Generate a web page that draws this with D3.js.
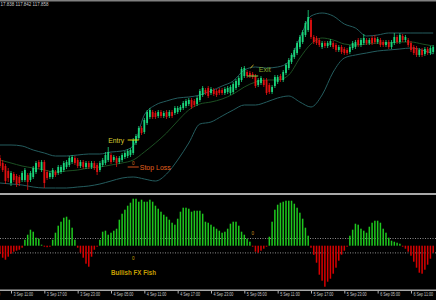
<!DOCTYPE html>
<html>
<head>
<meta charset="utf-8">
<script src="https://cdn.jsdelivr.net/npm/d3@7"></script>
<style>
  html, body { margin: 0; padding: 0; background: #000; }
  #chart { width: 436px; height: 300px; }
  text { font-family: "Liberation Sans", Arial, sans-serif; }
</style>
</head>
<body>
<div id="chart"></div>
<script>
// M30 bars, bar 0 = 3 Sep 09:00
const opens = [
  117.32,117.27,117.24,117.19,117.07,117.16,117.14,117.13,117.10,117.10,
  117.15,117.10,117.13,117.18,117.28,117.20,117.28,117.18,117.13,117.13,
  117.18,117.17,117.18,117.20,117.23,117.25,117.28,117.32,117.30,117.24,
  117.28,117.23,117.27,117.23,117.27,117.25,117.20,117.25,117.27,117.30,
  117.35,117.30,117.32,117.28,117.30,117.33,117.34,117.35,117.37,117.47,
  117.52,117.62,117.58,117.67,117.73,117.78,117.77,117.74,117.78,117.74,
  117.78,117.74,117.78,117.77,117.78,117.80,117.82,117.84,117.86,117.90,
  117.89,117.86,117.90,117.95,118.00,118.02,117.97,118.00,117.99,118.00,
  118.00,117.97,117.98,117.97,117.98,118.02,118.05,118.10,118.14,118.18,
  118.17,118.16,118.14,118.05,118.07,118.10,118.10,118.05,117.98,118.04,
  118.08,118.14,118.10,118.17,118.22,118.28,118.33,118.37,118.43,118.48,
  118.55,118.60,118.70,118.53,118.52,118.50,118.43,118.47,118.44,118.45,
  118.47,118.45,118.40,118.43,118.41,118.40,118.38,118.42,118.43,118.50,
  118.45,118.47,118.50,118.47,118.52,118.52,118.48,118.50,118.48,118.45,
  118.48,118.43,118.47,118.53,118.48,118.54,118.50,118.50,118.47,118.43,
  118.42,118.35,118.40,118.36,118.41,118.37,118.38
];
const highs = [
  117.35,117.30,117.26,117.22,117.19,117.18,117.16,117.15,117.19,117.22,
  117.17,117.19,117.24,117.29,117.30,117.30,117.30,117.20,117.19,117.22,
  117.20,117.25,117.25,117.29,117.30,117.34,117.35,117.34,117.32,117.30,
  117.30,117.29,117.29,117.29,117.29,117.27,117.29,117.32,117.38,117.43,
  117.37,117.35,117.34,117.34,117.37,117.39,117.41,117.42,117.52,117.56,
  117.64,117.64,117.72,117.80,117.82,117.80,117.79,117.80,117.80,117.79,
  117.80,117.80,117.80,117.84,117.84,117.85,117.89,117.91,117.92,117.92,
  117.91,117.94,118.01,118.04,118.02,118.04,118.03,118.02,118.01,118.02,
  118.02,118.03,118.04,118.05,118.08,118.11,118.14,118.23,118.24,118.20,
  118.19,118.18,118.16,118.12,118.14,118.12,118.12,118.07,118.05,118.15,
  118.15,118.16,118.20,118.27,118.32,118.37,118.42,118.49,118.55,118.60,
  118.69,118.80,118.72,118.55,118.54,118.52,118.49,118.49,118.49,118.51,
  118.49,118.47,118.45,118.45,118.43,118.42,118.45,118.49,118.50,118.52,
  118.52,118.56,118.52,118.52,118.54,118.55,118.53,118.52,118.50,118.50,
  118.50,118.50,118.57,118.55,118.57,118.56,118.55,118.52,118.49,118.45,
  118.44,118.42,118.42,118.43,118.43,118.44,118.45
];
const lows = [
  117.22,117.18,117.06,117.08,117.04,117.08,117.03,117.04,117.08,117.08,
  117.00,117.08,117.11,117.16,117.21,117.18,117.02,117.10,117.11,117.11,
  117.13,117.15,117.16,117.18,117.21,117.23,117.26,117.25,117.22,117.22,
  117.21,117.21,117.21,117.21,117.20,117.15,117.18,117.23,117.25,117.28,
  117.26,117.28,117.23,117.26,117.28,117.31,117.32,117.33,117.35,117.45,
  117.50,117.55,117.56,117.65,117.71,117.71,117.71,117.72,117.72,117.72,
  117.71,117.72,117.72,117.75,117.76,117.78,117.80,117.82,117.84,117.81,
  117.83,117.84,117.88,117.93,117.95,117.92,117.95,117.94,117.93,117.95,
  117.95,117.95,117.96,117.95,117.96,118.00,118.03,118.08,118.12,118.12,
  118.12,118.11,118.02,118.03,118.05,118.03,117.95,117.96,117.96,118.02,
  118.06,118.08,118.08,118.15,118.20,118.26,118.31,118.35,118.41,118.46,
  118.53,118.58,118.51,118.46,118.45,118.43,118.41,118.42,118.42,118.43,
  118.41,118.38,118.38,118.36,118.35,118.35,118.36,118.40,118.41,118.43,
  118.43,118.45,118.45,118.45,118.45,118.46,118.46,118.43,118.43,118.43,
  118.41,118.41,118.45,118.46,118.46,118.48,118.48,118.43,118.38,118.35,
  118.33,118.33,118.33,118.34,118.35,118.35,118.36
];
const closes = [
  117.24,117.20,117.09,117.12,117.17,117.10,117.06,117.07,117.17,117.20,
  117.08,117.17,117.22,117.27,117.23,117.28,117.07,117.12,117.17,117.20,
  117.15,117.23,117.23,117.27,117.28,117.32,117.33,117.27,117.24,117.28,
  117.23,117.27,117.23,117.27,117.22,117.18,117.27,117.30,117.35,117.38,
  117.28,117.33,117.27,117.32,117.35,117.37,117.39,117.40,117.50,117.54,
  117.62,117.57,117.70,117.78,117.80,117.73,117.73,117.78,117.74,117.77,
  117.73,117.78,117.74,117.82,117.82,117.83,117.87,117.89,117.90,117.83,
  117.85,117.92,117.99,118.02,117.97,117.94,118.01,117.96,117.95,117.97,
  117.97,118.01,118.02,118.03,118.06,118.09,118.12,118.21,118.22,118.14,
  118.14,118.13,118.04,118.10,118.12,118.05,117.97,117.98,118.03,118.13,
  118.13,118.10,118.18,118.25,118.30,118.35,118.40,118.47,118.53,118.58,
  118.67,118.73,118.53,118.48,118.47,118.45,118.47,118.44,118.47,118.49,
  118.43,118.40,118.43,118.38,118.37,118.37,118.43,118.47,118.48,118.45,
  118.50,118.52,118.47,118.50,118.47,118.48,118.51,118.45,118.45,118.48,
  118.43,118.48,118.53,118.48,118.55,118.50,118.53,118.45,118.40,118.37,
  118.35,118.40,118.35,118.41,118.37,118.42,118.43
];

// Bollinger bands read every 4th bar
const bandBars = [0,4,8,12,16,20,24,28,32,36,40,44,48,52,56,60,64,68,72,76,
                  80,84,88,92,96,100,104,108,112,116,120,124,128,132,136,140,144,148,152,156];
const bandUpper = [117.45,117.45,117.44,117.40,117.37,117.34,117.34,117.35,117.36,117.36,
                   117.38,117.39,117.44,117.75,117.85,117.89,117.92,117.93,117.95,117.99,
                   118.04,118.09,118.20,118.23,118.22,118.23,118.28,118.52,118.74,118.77,
                   118.74,118.66,118.62,118.54,118.55,118.57,118.57,118.57,118.57,118.57];
const bandMiddle = [117.30,117.27,117.24,117.22,117.20,117.18,117.19,117.20,117.22,117.23,
                    117.25,117.27,117.30,117.38,117.47,117.57,117.69,117.80,117.86,117.88,
                    117.91,117.96,118.03,118.08,118.10,118.10,118.15,118.32,118.46,118.52,
                    118.50,118.46,118.45,118.46,118.47,118.47,118.48,118.48,118.46,118.44];
const bandLower = [117.07,117.06,117.05,117.03,117.02,117.02,117.02,117.03,117.04,117.06,
                   117.09,117.12,117.13,117.11,117.09,117.16,117.30,117.47,117.66,117.68,
                   117.74,117.80,117.85,117.85,117.88,117.92,117.94,117.88,117.83,117.95,
                   118.18,118.32,118.35,118.37,118.39,118.40,118.41,118.42,118.40,118.36];

// Bullish FX Fish histogram, one value per bar
const fish = [
  -0.8,-1.2,-1.4,-1.1,-0.8,-0.6,-0.5,-0.4,-0.2,0.6,
  1.1,1.6,1.4,0.8,0.7,0.1,-0.1,-0.15,-0.1,0.6,
  1.3,2.0,2.4,2.8,2.9,2.6,1.8,0.6,-0.2,-0.7,
  -1.2,-1.8,-2.1,-1.1,-0.4,-0.1,0.6,1.4,1.5,1.1,
  1.3,1.5,1.7,2.6,3.2,3.6,4.0,4.3,4.7,4.7,
  4.4,4.6,4.4,4.4,4.6,4.4,4.0,3.7,3.4,3.1,
  2.9,2.6,2.3,2.1,2.7,3.4,3.8,3.8,3.7,3.4,
  3.5,3.5,3.5,3.2,2.4,2.3,2.1,1.9,1.7,1.5,
  1.3,1.4,1.7,2.2,2.4,2.4,2.0,1.4,1.1,0.7,
  0.4,-0.1,-0.6,-0.7,-0.5,-0.3,-0.1,0.9,2.4,3.6,
  4.1,4.3,4.4,4.5,4.5,4.5,4.2,3.8,3.3,2.7,
  1.8,1.0,-0.2,-0.9,-1.7,-2.9,-3.5,-4.1,-3.6,-3.3,
  -2.8,-2.2,-1.5,-0.9,-0.5,-0.1,1.0,1.6,2.2,2.1,
  1.7,1.5,1.3,1.9,2.3,2.5,2.5,2.3,1.7,1.3,
  0.8,0.5,0.4,0.3,0.2,-0.1,-0.3,-0.6,-1.0,-1.6,
  -2.2,-2.7,-2.8,-2.4,-1.9,-1.3,-0.7
];
const fishLevels = [0.72, -0.72];

const tickBars = [-8, 4, 16, 28, 40, 52, 64, 76, 88, 100, 112, 124, 136, 148];
const tickLabels = ['3 Sep 05:00','3 Sep 11:00','3 Sep 17:00','3 Sep 23:00','4 Sep 05:00',
                    '4 Sep 11:00','4 Sep 17:00','4 Sep 23:00','5 Sep 05:00','5 Sep 11:00',
                    '5 Sep 17:00','5 Sep 23:00','6 Sep 05:00','6 Sep 11:00'];

// trade marks: [from bar, to bar, price]
const entryLevel = [46, 50, 117.50];
const stopLevel = [46, 50, 117.23];
const exitLevel = [89, 93, 118.14];

const W = 436, H = 300;
const svg = d3.select('#chart').append('svg')
    .attr('width', W).attr('height', H)
    .style('background', '#000');

const x = d3.scaleLinear().domain([0, 156]).range([-0.1, 433.2]);
const y = d3.scaleLinear().domain([116.90, 118.90]).range([200, 0]);
const yF = d3.scaleLinear().domain([-1, 1]).range([255.7, 235.7]);

const defs = svg.append('defs');
defs.append('clipPath').attr('id', 'mainClip')
    .append('rect').attr('x', 0).attr('y', 2).attr('width', W).attr('height', 191);
defs.append('clipPath').attr('id', 'fishClip')
    .append('rect').attr('x', 0).attr('y', 196).attr('width', W).attr('height', 93);

// frame lines
svg.append('rect').attr('x', 0).attr('y', 0).attr('width', W).attr('height', 1.5).attr('fill', '#808080');
svg.append('rect').attr('x', 0).attr('y', 193).attr('width', W).attr('height', 2).attr('fill', '#a8a8a8');
svg.append('rect').attr('x', 0).attr('y', 289.5).attr('width', W).attr('height', 1.5).attr('fill', '#a8a8a8');

svg.append('text')
    .attr('x', 0.5).attr('y', 6.2)
    .attr('textLength', 48).attr('lengthAdjust', 'spacingAndGlyphs')
    .style('font-size', '5px').style('fill', '#c8c8c8')
    .text('17.838 117.842 117.858');

const main = svg.append('g').attr('clip-path', 'url(#mainClip)');

// Bollinger bands
const bandLine = d3.line()
    .x((d, i) => x(bandBars[i]))
    .y(d => y(d))
    .curve(d3.curveMonotoneX);
[[bandUpper, '#245c5e'], [bandLower, '#245c5e'], [bandMiddle, '#1c4f22']].forEach(([vals, col]) => {
    main.append('path')
        .attr('d', bandLine(vals))
        .attr('fill', 'none')
        .attr('stroke', col)
        .attr('stroke-width', 1);
});

// candles
const bars = d3.range(opens.length);
const up = i => closes[i] >= opens[i];
const candleCol = i => up(i) ? '#1ad67c' : '#e01010';

main.selectAll('.wick')
    .data(bars)
    .join('line')
    .attr('class', 'wick')
    .attr('x1', i => x(i)).attr('x2', i => x(i))
    .attr('y1', i => y(highs[i])).attr('y2', i => y(lows[i]))
    .attr('stroke', candleCol)
    .attr('stroke-width', 0.8);

main.selectAll('.body')
    .data(bars)
    .join('rect')
    .attr('class', 'body')
    .attr('x', i => x(i) - 0.9)
    .attr('width', 1.8)
    .attr('y', i => y(Math.max(opens[i], closes[i])))
    .attr('height', i => Math.max(1, Math.abs(y(opens[i]) - y(closes[i]))))
    .attr('fill', candleCol);

// trade annotations
function level(lv, col) {
    main.append('line')
        .attr('x1', x(lv[0])).attr('x2', x(lv[1]))
        .attr('y1', y(lv[2])).attr('y2', y(lv[2]))
        .attr('stroke', col).attr('stroke-width', 1);
}
level(entryLevel, '#e6d400');
level(stopLevel, '#d0501a');
level(exitLevel, '#66e04a');

main.append('text')
    .attr('x', x(entryLevel[0]) - 3.5).attr('y', y(entryLevel[2]) + 2.6)
    .attr('text-anchor', 'end')
    .attr('textLength', 16).attr('lengthAdjust', 'spacingAndGlyphs')
    .style('font-size', '7px').style('fill', '#d8cc30')
    .text('Entry');

main.append('text')
    .attr('x', x(stopLevel[1]) + 1).attr('y', y(stopLevel[2]) + 2.7)
    .attr('textLength', 31).attr('lengthAdjust', 'spacingAndGlyphs')
    .style('font-size', '7px').style('fill', '#e2601e')
    .text('Stop Loss');

main.append('text')
    .attr('x', x(48)).attr('y', y(stopLevel[2]) - 2.5)
    .attr('text-anchor', 'middle')
    .style('font-size', '4.5px').style('fill', '#d07020')
    .text('0');

main.append('text')
    .attr('x', x(exitLevel[1]) + 0.5).attr('y', y(exitLevel[2]) - 4.3)
    .attr('textLength', 12).attr('lengthAdjust', 'spacingAndGlyphs')
    .style('font-size', '7px').style('fill', '#86a82c')
    .text('Exit');

// little exit arrow
main.append('line')
    .attr('x1', x(91.3)).attr('y1', y(exitLevel[2]) - 11)
    .attr('x2', x(90.2)).attr('y2', y(exitLevel[2]) - 8)
    .attr('stroke', '#d8b020').attr('stroke-width', 1);

// Fish panel
const fishG = svg.append('g').attr('clip-path', 'url(#fishClip)');

fishG.selectAll('.lvl')
    .data(fishLevels)
    .join('line')
    .attr('class', 'lvl')
    .attr('x1', 0).attr('x2', W)
    .attr('y1', d => yF(d)).attr('y2', d => yF(d))
    .attr('stroke', '#8c8c8c')
    .attr('stroke-width', 1)
    .attr('stroke-dasharray', '1,1.5');

fishG.selectAll('.fish')
    .data(fish)
    .join('rect')
    .attr('class', 'fish')
    .attr('x', (d, i) => x(i) - 0.75)
    .attr('width', 1.5)
    .attr('y', d => Math.min(yF(d), yF(0)))
    .attr('height', d => Math.abs(yF(d) - yF(0)))
    .attr('fill', d => d >= 0 ? '#1ec81e' : '#d80000');

fishG.append('text')
    .attr('x', x(48)).attr('y', yF(-1.4))
    .attr('text-anchor', 'middle')
    .style('font-size', '4.5px').style('fill', '#c8a000')
    .text('0');

fishG.append('text')
    .attr('x', x(91)).attr('y', yF(1.1))
    .attr('text-anchor', 'middle')
    .style('font-size', '4.5px').style('fill', '#c89020')
    .text('0');

fishG.append('text')
    .attr('x', x(40)).attr('y', yF(-2.95))
    .attr('textLength', 45).attr('lengthAdjust', 'spacingAndGlyphs')
    .style('font-size', '7.5px').style('font-weight', 'bold').style('fill', '#c8a000')
    .text('Bullish FX Fish');

// time axis, labels start right of the tick like MT4
const axis = d3.axisBottom(x)
    .tickValues(tickBars)
    .tickSize(3)
    .tickFormat((d, i) => tickLabels[i]);

const ax = svg.append('g')
    .attr('transform', 'translate(0,290.5)')
    .call(axis);
ax.select('.domain').remove();
ax.selectAll('line').attr('stroke', '#b0b0b0');
ax.selectAll('text')
    .attr('x', 0).attr('y', 2.2).attr('dy', '0.71em')
    .attr('transform', 'translate(2,0) scale(0.74,1)')
    .style('text-anchor', 'start')
    .style('font-size', '5px')
    .style('font-family', '"Liberation Sans", Arial, sans-serif')
    .style('fill', '#c8c8c8');
</script>
</body>
</html>
